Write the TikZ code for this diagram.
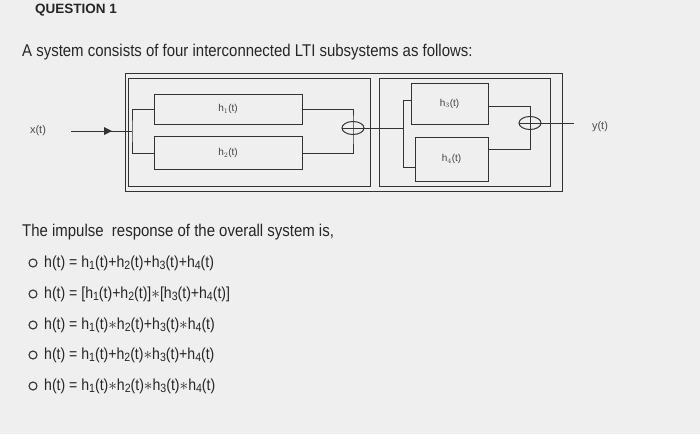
\documentclass[tikz,border=0pt]{standalone}
\usepackage{fontspec}
\usetikzlibrary{shapes.geometric}
\setmainfont{Liberation Sans}
\newfontfamily\narrowf[FakeStretch=0.88]{Liberation Sans}
\newcommand{\sbx}[1]{\raisebox{-0.25ex}{\fontsize{12}{12}\selectfont #1}}
\begin{document}
\begin{tikzpicture}[x=1pt,y=-1pt,
  ln/.style={draw=black!80,line width=1pt},
  blk/.style={draw=black!80,line width=1pt,fill=none,inner sep=0pt,font=\fontsize{10}{11}\selectfont,text=black!75},
  txt/.style={anchor=west,inner sep=0pt,font=\narrowf\fontsize{17}{19}\selectfont,text=black!85},
  opt/.style={anchor=west,inner sep=0pt,font=\narrowf\fontsize{16}{18}\selectfont,text=black!85}]
\fill[blue!4!gray!12] (0,0) rectangle (700,434);
\useasboundingbox (0,0) rectangle (700,434);
\node[anchor=west,inner sep=0pt,font=\bfseries\fontsize{13.5}{15}\selectfont,text=black!85] (q) at (35,10) {QUESTION 1};
\node[txt] (t1) at (22,52) {A system consists of four interconnected LTI subsystems as follows:};
% frames
\draw[ln] (125,73) rectangle (562,191);
\draw[ln] (128,78) rectangle (370,186);
\draw[ln] (379,78) rectangle (550,186);
% blocks
\node[blk,minimum width=148pt,minimum height=30pt] (h1) at (228,109) {h$_1$(t)};
\node[blk,minimum width=148pt,minimum height=33pt] (h2) at (228,153) {h$_2$(t)};
\node[blk,minimum width=77pt,minimum height=41pt] (h3) at (449.5,103.5) {h$_3$(t)};
\node[blk,minimum width=73pt,minimum height=44pt] (h4) at (451.5,159) {h$_4$(t)};
\node[blk,ellipse,minimum width=22pt,minimum height=13pt] (s1) at (353,128) {};
\node[blk,ellipse,minimum width=22pt,minimum height=13pt] (s2) at (530,123) {};
\node[font=\fontsize{11}{12}\selectfont,text=black!70] (x) at (38,131) {x(t)};
\node[font=\fontsize{11}{12}\selectfont,text=black!70] (y) at (600,127) {y(t)};
\coordinate (sp) at (132,131);
\coordinate (out) at (574,123);
\draw[ln] (71,131) -- (sp);
\fill[black!80] (112,131) -- (104,127) -- (104,135) -- cycle;
\draw[ln] (h1.west) -| (sp) |- (h2.west);
\draw[ln] (h1.east) -| (s1.north) -- (s1.south) |- (h2.east);
\draw[ln] (s1.west) -- (403,128);
\draw[ln] (h3.west |- 0,100) -| (403,167) -- (h4.west |- 0,167);
\draw[ln] (h3.east |- 0,106) -| (s2.north) -- (s2.south) |- (h4.east |- 0,149);
\draw[ln] (s2.west) -- (out);
% text
\node[txt] (t2) at (22,232) {The impulse\ \ response of the overall system is,};
\foreach \yy/\tx [count=\i] in {263/{h(t) = h\sbx{1}(t)+h\sbx{2}(t)+h\sbx{3}(t)+h\sbx{4}(t)},
  294/{h(t) = [h\sbx{1}(t)+h\sbx{2}(t)]$\ast$[h\sbx{3}(t)+h\sbx{4}(t)]},
  325/{h(t) = h\sbx{1}(t)$\ast$h\sbx{2}(t)+h\sbx{3}(t)$\ast$h\sbx{4}(t)},
  355/{h(t) = h\sbx{1}(t)+h\sbx{2}(t)$\ast$h\sbx{3}(t)+h\sbx{4}(t)},
  386/{h(t) = h\sbx{1}(t)$\ast$h\sbx{2}(t)$\ast$h\sbx{3}(t)$\ast$h\sbx{4}(t)}}{
  \draw[black!80,line width=1.1pt] (33,\yy) circle (4);
  \node[opt] (o\i) at (44,\yy) {\tx};
}
\end{tikzpicture}
\end{document}
